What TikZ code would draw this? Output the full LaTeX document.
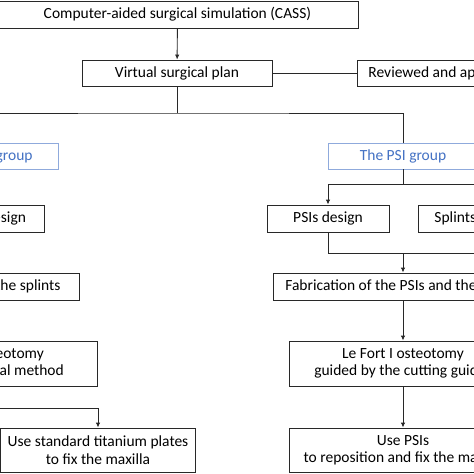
\documentclass[tikz,border=0pt]{standalone}
\usepackage{fontspec}
\setmainfont{Carlito}
\usetikzlibrary{arrows.meta}
\definecolor{boxblue}{RGB}{143,170,220}
\definecolor{textblue}{RGB}{68,114,196}
\definecolor{linegray}{RGB}{40,40,40}
\begin{document}
\begin{tikzpicture}[x=1pt,y=-1pt,
  box/.style={draw=linegray,line width=0.9pt,fill=white,minimum height=26pt,inner sep=0pt,
    font=\fontsize{15.5}{17.5}\selectfont,align=center},
  bluebox/.style={box,draw=boxblue,text=textblue},
  conn/.style={draw=linegray,line width=0.9pt},
  arr/.style={conn,-{Latex[length=5pt,width=4.5pt]}}]
\useasboundingbox (0,0) rectangle (474,474);
\clip (0,0) rectangle (474,474);
\fill[white] (0,0) rectangle (474,474);
% nodes
\node[box,minimum width=361pt,minimum height=27pt] (cass) at (177.5,14.5) {Computer-aided surgical simulation (CASS)};
\node[box,minimum width=190pt] (vsp) at (177,73) {Virtual surgical plan};
\node[box,anchor=west,inner xsep=11pt] (rev) at (357,73) {Reviewed and approved by surgeons};
\node[bluebox,minimum width=149pt] (psig) at (403,156) {The PSI group};
\node[bluebox,anchor=east,inner xsep=26pt] (cg) at (59,156) {The control group};
\node[box,minimum width=122pt,minimum height=27pt] (psid) at (328,218.5) {PSIs design};
\node[box,minimum width=119pt,minimum height=27pt] (spd) at (477.5,218.5) {Splints design};
\node[box,minimum width=122pt,minimum height=27pt] (cspd) at (-17,218.5) {Splints design};
\node[box,minimum width=260pt,minimum height=27pt] (fab) at (403,286.5) {Fabrication of the PSIs and the splints};
\node[box,minimum width=192pt,minimum height=27pt] (cfab) at (-17,286.5) {Fabrication of the splints};
\node[box,minimum width=228pt,minimum height=45pt] (lf) at (403,363.5) {Le Fort I osteotomy\\guided by the cutting guides};
\node[box,minimum width=228pt,minimum height=45pt] (clf) at (-17,363.5) {Le Fort I osteotomy\\by the traditional method};
\node[box,minimum width=195pt,minimum height=44pt] (ust) at (98,450) {Use standard titanium plates\\to fix the maxilla};
\node[box,minimum width=228pt,minimum height=44pt] (upsi) at (403,450) {Use PSIs\\to reposition and fix the maxilla};
% junction coordinates
\coordinate (j1) at (177,113);
\coordinate (j2) at (403,184);
\coordinate (j3) at (403,253);
\coordinate (j4) at (-17,408);
% connectors
\draw[arr] (cass) -- (vsp);
\draw[conn] (vsp) -- (rev);
\draw[conn] (vsp.south) -- (j1);
\draw[conn] (cg.north) |- (j1) -| (psig.north);
\draw[conn] (psig.south) -- (j2);
\draw[arr] (j2) -| (psid.north);
\draw[arr] (j2) -| (spd.north);
\draw[conn] (psid.south) |- (j3);
\draw[conn] (spd.south) |- (j3);
\draw[arr] (j3) -- (fab.north);
\draw[arr] (fab) -- (lf);
\draw[arr] (lf) -- (upsi);
\draw[arr] (cg.south -| cspd) -- (cspd);
\draw[arr] (cspd) -- (cfab);
\draw[arr] (cfab) -- (clf);
\draw[conn] (clf.south) -- (j4);
\draw[arr] (j4) -| (ust.north);
\end{tikzpicture}
\end{document}
